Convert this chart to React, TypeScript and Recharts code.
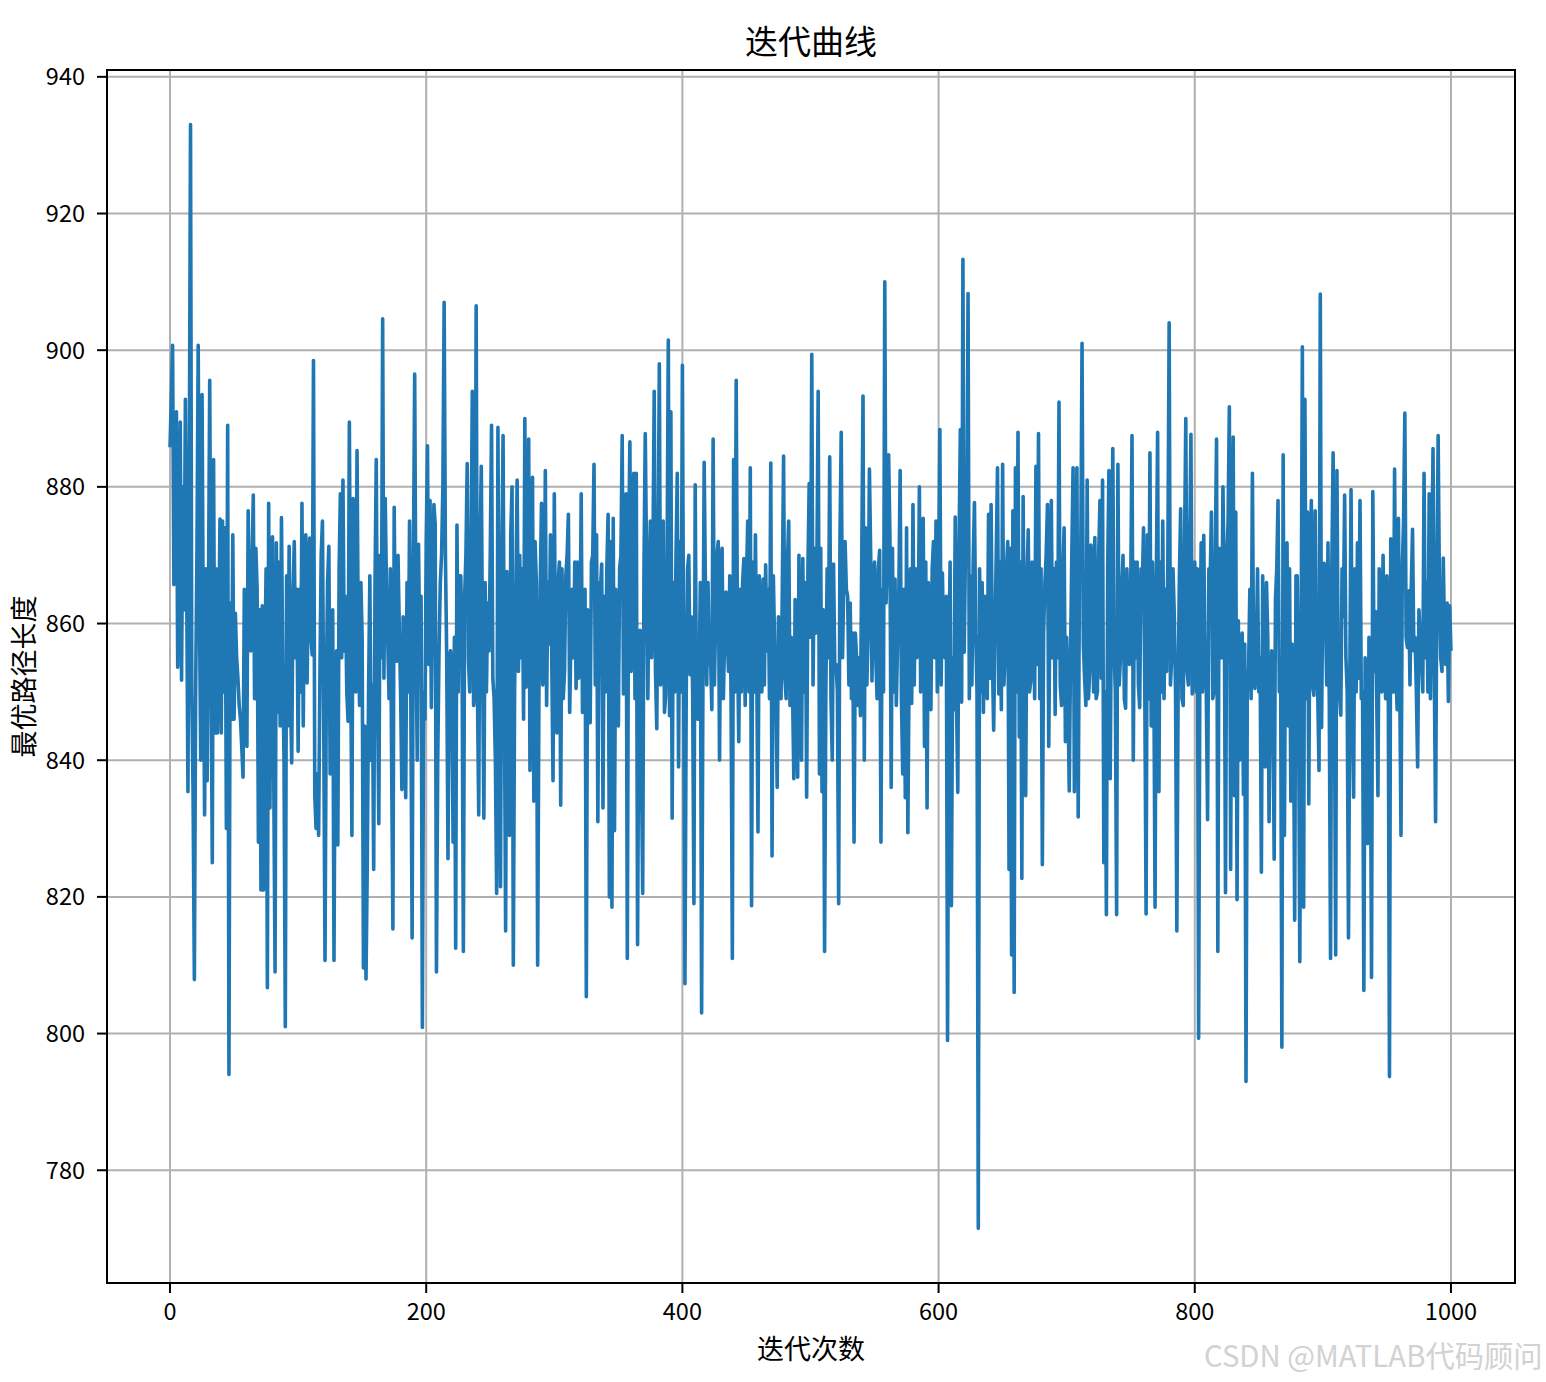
import { LineChart, Line, XAxis, YAxis, CartesianGrid, ReferenceArea, Label } from 'recharts';

// Best route length per iteration (index = iteration).
const bestLengths = [
  885.8, 893, 900.7, 865.7, 880, 891, 853.6, 875, 889.5, 851.7,
  880, 862, 892.8, 866, 835.4, 880, 933, 850, 835, 807.9,
  850, 870, 900.7, 861.5, 840, 893.5, 858, 832, 868, 837,
  864, 895.6, 855, 825, 884, 844, 868, 844, 857, 875.3,
  844, 875, 850, 874, 830, 889, 794, 863, 846, 873,
  846, 861.5, 855, 852, 848, 846, 842, 837.5, 865, 852,
  842, 876.5, 862, 856, 868, 878.8, 849, 871, 865, 828,
  862, 821, 862.6, 821, 853, 868, 806.7, 877.6, 833, 866,
  872.7, 837, 809, 871.8, 847, 869, 845, 875.5,
  853, 840, 801, 867, 845, 871.3, 850, 839.6, 864, 872,
  855, 865, 841.3, 865, 850, 877.6, 845, 869, 873, 851.3,
  865, 872.5, 858, 855.4, 898.5, 835, 830, 838, 829, 852,
  870, 875, 845, 810.7, 850, 866, 871.3, 838, 855, 862,
  810.7, 850, 856, 827.6, 868, 879, 855, 881, 856, 864,
  850, 845.7, 889.5, 855, 829, 878.3, 855, 850, 885.3, 857,
  848, 866, 857.8, 809.6, 845, 808, 825, 850, 867, 840,
  851, 824, 865, 884, 850, 830.7, 870, 855, 904.6, 852,
  878.3, 865, 857.3, 849, 868, 840, 815.3, 877, 855, 854.5,
  870, 859, 850, 835.7, 861, 845, 834.5, 866, 850, 875,
  848, 814, 869, 896.5, 859, 840, 871.6, 855, 864, 800.9,
  850, 846, 872, 886, 854, 878, 847.7, 865, 877.4, 874.6,
  809, 840, 856, 866, 870, 880, 907, 870, 855, 825.6,
  855, 856, 850, 828, 858, 812.5, 874.4, 850, 867, 867,
  855, 812, 864, 870, 883.4, 854.5, 850, 870, 894, 848,
  850, 906.5, 850, 832, 871, 883, 855, 831.5, 866, 850,
  863, 856, 870, 889, 852, 849, 840, 820.5, 888.7, 850,
  821.5, 868, 887.5, 850, 815, 867.6, 850, 829, 873, 880,
  810, 850, 865, 881, 853, 870, 855, 868, 846, 890,
  850.7, 865, 887, 838.5, 869, 881.4, 834, 872, 866, 810,
  850, 865, 877.6, 851, 855.6, 882.4, 848, 866, 857, 873,
  855, 837, 879, 855, 844, 866, 869, 833.4, 868, 849,
  853, 867, 870, 876, 847, 858, 865, 855, 869, 850.5,
  869, 852, 855, 879, 847, 855, 865, 805.4, 862, 850,
  845.5, 869, 870, 883.3, 851, 873, 831, 866, 865, 868.7,
  833, 864, 850, 868, 876, 820, 872, 818.5, 875.4, 829.7,
  865, 852, 845, 868, 870, 887.5, 849.7, 866, 879, 811,
  871, 886.6, 853, 865, 882, 849, 882, 813, 850, 859,
  840, 820.5, 868, 887.8, 870, 849, 865, 875, 855, 870,
  894, 853, 844.6, 870, 898, 851, 867.4, 875, 847, 849.5,
  868, 901.5, 846.5, 891, 831.5, 866, 850, 870, 882, 839,
  872, 850, 897.8, 852, 807.3, 850, 868, 870, 852.5, 861,
  850, 819, 880.3, 847, 846, 851, 866, 803, 850, 883.6,
  865, 851, 866, 854, 855, 847.4, 887, 851, 861, 870,
  872, 840, 868, 871, 849, 858.6, 864.6, 858, 853, 867,
  849, 811, 884, 850, 895.6, 858, 842.7, 865, 850, 866,
  869.5, 848, 866, 875, 850, 882.8, 818.7, 869, 850, 873,
  855, 829.5, 867, 855, 850, 866.5, 851, 868.6, 856, 865,
  849, 883.5, 826, 867, 857, 850, 836, 861, 855, 849,
  865, 884.5, 852, 849, 869, 875, 848, 858, 850, 837.3,
  863.5, 850, 837.5, 870, 850, 840, 869.5, 850, 866, 834.6,
  868, 880.5, 858, 899.4, 851, 871, 858.6, 869, 894, 838,
  871, 835.4, 862, 812, 850, 868, 855, 884.4, 849, 840,
  868.7, 853, 854, 850, 819, 872, 888, 855, 866, 872,
  865, 864, 851, 863, 849, 858.6, 828, 858.6, 855, 848,
  855, 846.5, 869, 893.3, 840, 874, 851, 859, 882.6, 870,
  851.6, 866, 869, 855, 849, 868, 870.7, 828, 865, 850,
  910, 863, 870, 884.7, 873, 836, 871, 850, 866.5, 848,
  857.6, 865, 882.4, 849, 838, 865, 834.5, 874, 829.4, 853.5,
  868, 848.3, 877.4, 851, 868, 855, 856, 880, 850, 867,
  875.4, 842, 869, 833, 866, 855, 847.4, 868, 872, 855,
  875, 850, 866, 888.4, 851, 867.4, 855.6, 855, 864, 799,
  855, 869, 818.7, 855, 847.4, 875.6, 849, 835.3, 872, 888.4,
  848.5, 913.3, 855.8, 871, 870, 908.3, 849, 867, 851, 869,
  877.7, 858.6, 850, 771.5, 868, 850, 866, 847, 864, 857.6,
  849, 876, 852, 877.4, 855, 844.4, 858, 870, 882.8, 849.7,
  869, 847.4, 883.3, 851, 855.8, 868, 872, 824, 871, 811.5,
  876.5, 806, 882.8, 850, 888, 843.4, 869, 822.7, 878.6, 850,
  834.8, 867, 873.7, 850, 851.6, 869, 867, 849, 883, 854,
  887.8, 849, 868, 824.7, 858.6, 866, 870, 877.4, 842, 865,
  878, 855, 868, 846.7, 869, 855, 892.4, 851, 848, 867,
  874, 842.7, 858, 850, 835.5, 855, 870, 882.8, 835.4, 866,
  882.8, 831.7, 868, 870, 901, 857, 852, 848, 881, 849,
  853, 871.5, 867, 850, 872.6, 849, 850, 870, 878, 852,
  881, 825, 850, 817.4, 868, 882.4, 837.3, 866, 885.6, 856,
  850, 817.4, 883.3, 851, 855, 865, 870, 849, 847.6, 868,
  860.4, 854, 865, 887.5, 840, 869, 855, 869, 851, 847.7,
  868, 865, 874, 850, 817.5, 873, 849, 885, 845, 869,
  855, 818.5, 867, 888, 835.4, 869, 850, 875, 849, 865,
  853, 870, 904, 851, 855, 868, 861.4, 850, 815, 850,
  867, 876.8, 849, 848, 871, 890, 853, 851, 870, 887.7,
  849.7, 866, 869, 850, 868, 799.3, 855, 871.8, 850, 872.9,
  855, 850, 831.3, 868, 866, 876.3, 849, 850, 869, 887,
  812, 871, 857.6, 855, 880, 865, 820.6, 869, 875, 891.7,
  824, 868, 887.3, 834.8, 876.3, 819.6, 860.4, 840, 855, 858.6,
  835, 857, 793, 850, 853.4, 865, 849, 882, 852, 850.5,
  855, 868, 850, 855, 823.6, 867, 855, 839, 866, 858,
  831, 850, 856, 850, 825.5, 863.5, 868, 878, 850, 855,
  798, 884.7, 829, 867, 871.8, 845, 868, 834, 857, 850,
  816.6, 867, 867, 850, 810.5, 855, 900.5, 818.5, 892.8, 849,
  876.3, 833.6, 868, 878, 851, 849.5, 876.5, 853, 850, 838.5,
  908.2, 844.8, 867, 868.8, 861.8, 851, 871.8, 849, 811, 868,
  885, 850, 811.5, 882.4, 851, 850, 846.6, 868, 861, 878.8,
  855, 850, 814, 850, 879.6, 849, 834.6, 868, 850, 871.8,
  852, 878, 849, 850, 806.3, 855, 850, 827.8, 858, 850,
  808.2, 879.3, 853, 861.8, 850, 834.8, 868, 855, 850, 870,
  855, 849, 867, 855.3, 793.7, 872.4, 851, 850, 882.6, 853,
  847.4, 875.4, 852, 829, 868, 875, 890.8, 858, 856.5, 864.8,
  851, 865, 873.8, 856, 858, 850, 839, 862, 858, 855,
  850, 882, 855, 866, 850, 879, 849, 868, 885.6, 853,
  831, 866, 887.5, 865, 855, 853, 869.6, 858, 854, 863,
  848.6, 862.6, 856,
];

const xTicks = [0, 200, 400, 600, 800, 1000];
const yTicks = [780, 800, 820, 840, 860, 880, 900, 920, 940];

const chartData = bestLengths.map((length, iteration) => ({ iteration, length }));

const FONT = '"Noto Sans CJK SC", sans-serif';

export default function App() {
  return (
    <div style={{ position: 'absolute', left: 0, top: 0, width: 1546, height: 1382, background: '#fff' }}>
      <LineChart
        width={1546}
        height={1382}
        data={chartData}
        margin={{ top: 70, right: 31, bottom: 0, left: 0 }}
        style={{ fontFamily: FONT }}
      >
        <CartesianGrid stroke="#b0b0b0" strokeWidth={2} />
        <XAxis
          dataKey="iteration"
          type="number"
          domain={[-49.2, 1050]}
          ticks={xTicks}
          height={99}
          interval={0}
          allowDataOverflow
          axisLine={{ stroke: '#000', strokeWidth: 2 }}
          tickLine={{ stroke: '#000', strokeWidth: 2 }}
          tickSize={10}
          tickMargin={10}
          tick={{ fill: '#000', fontSize: 23.5 }}
        >
          <Label value="迭代次数" position="insideBottom" offset={23} style={{ fill: '#000', fontSize: 27 }} />
        </XAxis>
        <YAxis
          type="number"
          domain={[763.5, 941]}
          ticks={yTicks}
          width={107}
          interval={0}
          allowDataOverflow
          axisLine={{ stroke: '#000', strokeWidth: 2 }}
          tickLine={{ stroke: '#000', strokeWidth: 2 }}
          tickSize={10}
          tickMargin={12}
          tick={{ fill: '#000', fontSize: 23.5 }}
        >
          <Label value="最优路径长度" angle={-90} position="insideLeft" offset={24} style={{ fill: '#000', fontSize: 27, textAnchor: 'middle' }} />
        </YAxis>
        <Line
          dataKey="length"
          type="linear"
          stroke="#1f77b4"
          strokeWidth={3.6}
          strokeLinejoin="round"
          dot={false}
          isAnimationActive={false}
        />
        <ReferenceArea
          x1={-49.2}
          x2={1050}
          y1={763.5}
          y2={941}
          fill="none"
          stroke="#000"
          strokeWidth={2}
          ifOverflow="visible"
        />
        <text x={811} y={40} textAnchor="middle" dominantBaseline="central" fontSize={33} fill="#000">
          迭代曲线
        </text>
        <text x={1204} y={1354} dominantBaseline="central" fontSize={29.3} fill="#d2d2d2">
          CSDN @MATLAB代码顾问
        </text>
      </LineChart>
    </div>
  );
}
